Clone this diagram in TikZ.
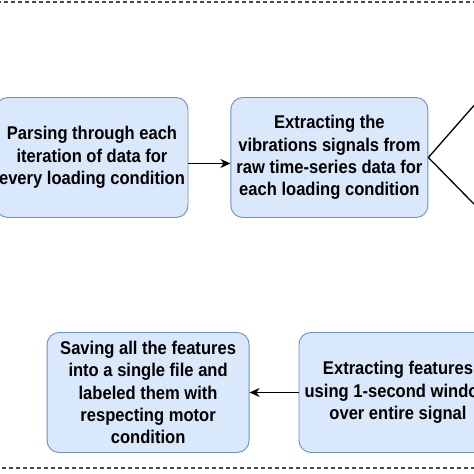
\documentclass[tikz,border=0pt]{standalone}
\usepackage{fontspec}
\setmainfont[FakeStretch=0.9]{Liberation Sans}
\usetikzlibrary{arrows.meta,positioning}
\definecolor{boxfill}{HTML}{DAE8FC}
\definecolor{boxline}{HTML}{6C8EBF}
\definecolor{groupline}{HTML}{4A4A4A}

\begin{document}
\begin{tikzpicture}[x=1pt, y=1pt, font=\bfseries\fontsize{18.4}{22.3}\selectfont, >={Stealth[length=10pt, width=9pt, inset=3pt]},
  stepbox/.style={draw=boxline, fill=boxfill, rounded corners=12pt, align=center, minimum width=#1, minimum height=120pt, inner sep=0pt, line width=0.9pt},
  stepbox/.default=197pt,
  flow/.style={->, line width=1.3pt}, group/.style={draw=groupline, line width=1.8pt, dash pattern=on 4pt off 3pt}]
  \useasboundingbox (0,0) rectangle (474,474);
  % dashed group frame, sides cut off by the crop
  \draw[group] (-20,6) rectangle (500,472);
  \node[stepbox=192pt] (parse) at (92,316.5) {Parsing through each\\iteration of data for\\every loading condition};
  \node[stepbox, right=42pt of parse] (extract) {Extracting the\\vibrations signals from\\raw time-series data for\\each loading condition};
  \node[stepbox=198pt] (window) at (398,81.5) {Extracting features\\using 1-second window\\over entire signal};
  \node[stepbox=202pt, left=49pt of window] (save) {Saving all the features\\into a single file and\\labeled them with\\respecting motor\\condition};
  \coordinate (upnext) at (520,421);
  \coordinate (downnext) at (520,223);
  \draw[flow] ([yshift=-6pt]parse.east) -- ([yshift=-6pt]extract.west);
  \draw[flow] (extract.east) -- (upnext);
  \draw[flow] (extract.east) -- (downnext);
  \draw[flow] (window) -- (save);
\end{tikzpicture}
\end{document}
